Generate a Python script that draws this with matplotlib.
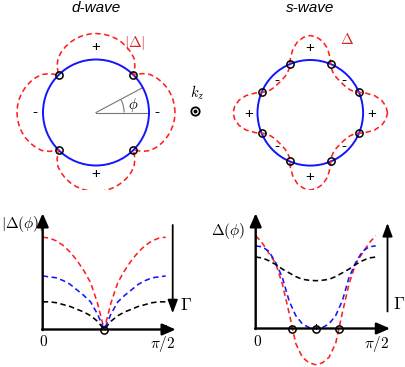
import numpy as np
import matplotlib
matplotlib.use('Agg')
import matplotlib.pyplot as plt
from matplotlib.patches import Circle, Arc

plt.rcParams['mathtext.fontset'] = 'cm'

# ---------------- data ----------------
phi_deg = [0, 5, 10, 15, 20, 25, 30, 35, 40, 45, 50, 55, 60, 65, 70, 75, 80, 85, 90]

# d-wave |Delta(phi)| for increasing Gamma (red -> blue -> black), normalised
d_red   = [1.00, 0.99, 0.96, 0.91, 0.84, 0.75, 0.64, 0.51, 0.29, 0.00,
           0.29, 0.51, 0.64, 0.75, 0.84, 0.91, 0.96, 0.99, 1.00]
d_blue  = [0.58, 0.57, 0.56, 0.53, 0.49, 0.43, 0.37, 0.30, 0.17, 0.00,
           0.17, 0.30, 0.37, 0.43, 0.49, 0.53, 0.56, 0.57, 0.58]
d_black = [0.30, 0.30, 0.29, 0.27, 0.25, 0.22, 0.19, 0.15, 0.09, 0.00,
           0.09, 0.15, 0.19, 0.22, 0.25, 0.27, 0.29, 0.30, 0.30]

# s-wave Delta(phi) for increasing Gamma (red -> blue -> black), normalised
s_red   = [1.00, 0.92, 0.81, 0.70, 0.48, 0.17, -0.16, -0.31, -0.37, -0.39,
           -0.37, -0.31, -0.16, 0.17, 0.48, 0.70, 0.81, 0.92, 1.00]
s_blue  = [0.89, 0.88, 0.83, 0.71, 0.55, 0.30, 0.14, 0.05, 0.01, 0.00,
           0.01, 0.05, 0.14, 0.30, 0.55, 0.71, 0.83, 0.88, 0.89]
s_black = [0.77, 0.76, 0.73, 0.69, 0.64, 0.60, 0.56, 0.53, 0.52, 0.515,
           0.52, 0.53, 0.56, 0.60, 0.64, 0.69, 0.73, 0.76, 0.77]

# gap drawn around the s-wave Fermi surface (one quadrant)
s_polar = [1.00, 0.94, 0.80, 0.56, 0.22, -0.14, -0.28, -0.35, -0.38, -0.39,
           -0.38, -0.35, -0.28, -0.14, 0.22, 0.56, 0.80, 0.94, 1.00]

d_nodes_deg = [45]
s_polar_nodes_deg = [23, 67]
s_red_nodes_deg = [27.5, 62.5]
s_blue_nodes_deg = [45]
phi_mark_deg = 28

# ---------------- styles ----------------
RED = '#ff1f1f'
LABEL_RED = '#d42a2a'
BLUE = '#1414ff'
DASH = (0, (3.4, 2.2))
W, H = 405, 367

fig = plt.figure(figsize=(W / 100, H / 100), dpi=100)


def add_px_axes(x0, y0, x1, y1):
    ax = fig.add_axes([x0 / W, 1 - y1 / H, (x1 - x0) / W, (y1 - y0) / H])
    ax.axis('off')
    return ax


def ftext(x, y, s, **kw):
    kw.setdefault('ha', 'center')
    kw.setdefault('va', 'center')
    fig.text(x / W, 1 - y / H, s, **kw)


def full_turn(deg, vals):
    q = np.deg2rad(np.asarray(deg, float))
    v = np.asarray(vals, float)
    ang = np.concatenate([q, np.pi - q[::-1], np.pi + q, 2 * np.pi - q[::-1]])
    val = np.concatenate([v, v[::-1], v, v[::-1]])
    return ang, val


def fermi_panel(box, center, R, gap, k, nodes):
    ax = add_px_axes(*box)
    x0, y0, x1, y1 = box
    cx, cy = center
    ax.set_xlim((x0 - cx) / R, (x1 - cx) / R)
    ax.set_ylim((cy - y1) / R, (cy - y0) / R)
    ax.add_patch(Circle((0, 0), 1, fill=False, ec=BLUE, lw=1.4, zorder=2))
    ang, val = full_turn(phi_deg, gap)
    r = 1 + k * np.asarray(val)
    ax.plot(r * np.cos(ang), r * np.sin(ang), color=RED, lw=1.15, ls=DASH, zorder=3)
    a = []
    for n in nodes:
        a += [n, 180 - n, 180 + n, 360 - n]
    a = np.deg2rad(a)
    ax.plot(np.cos(a), np.sin(a), 'o', mfc='none', mec='k', ms=5.2, mew=1.1, zorder=4)
    return ax


def gap_panel(box, origin, ppd, ppu, curves, x_tip, y_tip, ticks, nodes):
    ax = add_px_axes(*box)
    x0, y0, x1, y1 = box
    ox, oy = origin
    ax.set_xlim((x0 - ox) / ppd, (x1 - ox) / ppd)
    ax.set_ylim((oy - y1) / ppu, (oy - y0) / ppu)
    for vals, col in curves:
        ax.plot(phi_deg, vals, color=col, lw=1.15, ls=DASH, zorder=2)
    ap = dict(arrowstyle='-|>,head_length=0.8,head_width=0.35', color='k', lw=1.7,
              shrinkA=0, shrinkB=0, mutation_scale=10)
    ax.annotate('', xy=(x_tip, 0), xytext=(-0.6 / ppd, 0), arrowprops=ap, zorder=5)
    ax.annotate('', xy=(0, y_tip), xytext=(0, -0.6 / ppu), arrowprops=ap, zorder=5)
    for t in ticks:
        ax.plot([t, t], [0, 5 / ppu], color='k', lw=0.7, zorder=5)
    ax.plot(nodes, [0] * len(nodes), 'o', mfc='none', mec='k', ms=5.2, mew=1.1, zorder=6)
    return ax


def gamma_arrow(ax, x, ya, yb):
    ap = dict(arrowstyle='-|>,head_length=0.8,head_width=0.3', color='k', lw=1.3,
              shrinkA=0, shrinkB=0, mutation_scale=10)
    ax.annotate('', xy=(x, yb), xytext=(x, ya), arrowprops=ap, annotation_clip=False)


# ---------------- top-left: d-wave ----------------
axd = fermi_panel((0, 0, 200, 190), (96, 112.5), 53.0, d_red, 26 / 53, d_nodes_deg)
pm = np.deg2rad(phi_mark_deg)
axd.plot([0, 1], [0, 0], color='#777777', lw=0.8, zorder=1)
axd.plot([0, np.cos(pm)], [0, np.sin(pm)], color='#777777', lw=0.8, zorder=1)
axd.add_patch(Arc((0, 0), 1.06, 1.06, theta1=0, theta2=phi_mark_deg, color='#777777', lw=0.8))
axd.plot([1.868], [0.03], 'o', mfc='none', mec='k', ms=6.0, mew=1.3, clip_on=False)
axd.plot([1.868], [0.03], 'o', mfc='k', mec='k', ms=1.8, clip_on=False)

ftext(96, 7.5, 'd-wave', fontsize=11, style='italic', family='Liberation Sans')
ftext(95.7, 47, '+', fontsize=11, family='Liberation Sans')
ftext(95.7, 174, '+', fontsize=11, family='Liberation Sans')
ftext(35, 111.7, '-', fontsize=11, family='Liberation Sans')
ftext(157.3, 111.7, '-', fontsize=11, family='Liberation Sans')
ftext(135, 43, r'$|\Delta|$', fontsize=11, color=LABEL_RED)
ftext(133.3, 105, r'$\phi$', fontsize=10.5)
ftext(197, 92.5, r'$k_z$', fontsize=10.5)

# ---------------- top-right: s-wave ----------------
axs = fermi_panel((200, 0, 405, 190), (310.3, 112.8), 52.8, s_polar, 24.5 / 52.8, s_polar_nodes_deg)
ftext(310, 7.5, 's-wave', fontsize=11, style='italic', family='Liberation Sans')
for (x, y) in [(310, 48.3), (310, 176.7), (249, 114.3), (371.7, 114.3)]:
    ftext(x, y, '+', fontsize=11, family='Liberation Sans')
for (x, y) in [(277.3, 80), (344, 80), (277.3, 146), (344, 146)]:
    ftext(x, y, '-', fontsize=11, family='Liberation Sans')
ftext(347.3, 40, r'$\Delta$', fontsize=11, color=LABEL_RED)

# ---------------- bottom-left: d-wave gap vs phi ----------------
ppd_l, ppu_l = 123.0 / 90, 92.3
axl = gap_panel((0, 195, 200, 367), (42.7, 329.5), ppd_l, ppu_l,
                [(d_red, RED), (d_blue, BLUE), (d_black, 'k')],
                (175.7 - 42.7) / ppd_l, (329.5 - 213.3) / ppu_l, [90], d_nodes_deg)
gamma_arrow(axl, (172.7 - 42.7) / ppd_l, (329.5 - 225) / ppu_l, (329.5 - 313.3) / ppu_l)
ftext(22, 224, r'$|\Delta(\phi)|$', fontsize=11)
ftext(44, 341.7, r'$0$', fontsize=11)
ftext(163, 343.5, r'$\pi/2$', fontsize=11)
ftext(186, 305, r'$\Gamma$', fontsize=12.5)

# ---------------- bottom-right: s-wave gap vs phi ----------------
ppd_r, ppu_r = 120.0 / 90, 92.8
axr = gap_panel((200, 195, 405, 367), (255.7, 328.5), ppd_r, ppu_r,
                [(s_red, RED), (s_blue, BLUE), (s_black, 'k')],
                (390 - 255.7) / ppd_r, (328.5 - 213.3) / ppu_r, [45, 90],
                s_red_nodes_deg + s_blue_nodes_deg)
gamma_arrow(axr, (387.5 - 255.7) / ppd_r, (328.5 - 311.5) / ppu_r, (328.5 - 223) / ppu_r)
ftext(228, 231, r'$\Delta(\phi)$', fontsize=11)
ftext(257.3, 341.7, r'$0$', fontsize=11)
ftext(376.7, 344, r'$\pi/2$', fontsize=11)
ftext(399.5, 304, r'$\Gamma$', fontsize=12.5)

fig.savefig('out.png', dpi=100)
